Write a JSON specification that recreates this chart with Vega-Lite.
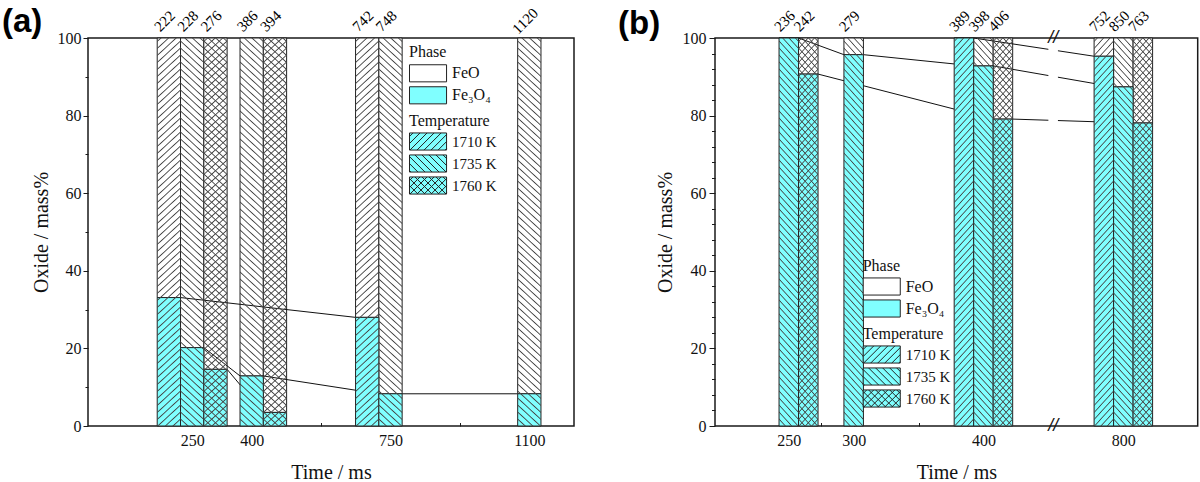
{
  "$schema": "https://vega.github.io/schema/vega-lite/v6.json",
  "description": "Oxide phase fractions (FeO / Fe3O4) vs time for three temperatures, two panels.",
  "background": "white",
  "padding": {"left": 1, "top": 4, "right": 0, "bottom": 0},
  "bounds": "flush",
  "spacing": 141,
  "datasets": {
    "a": [
      {"t": 250, "temp": "1710 K", "run": "222", "fe3o4": 33.1},
      {"t": 250, "temp": "1735 K", "run": "228", "fe3o4": 20.2},
      {"t": 250, "temp": "1760 K", "run": "276", "fe3o4": 14.6},
      {"t": 400, "temp": "1735 K", "run": "386", "fe3o4": 12.9},
      {"t": 400, "temp": "1760 K", "run": "394", "fe3o4": 3.5},
      {"t": 750, "temp": "1710 K", "run": "742", "fe3o4": 28.0},
      {"t": 750, "temp": "1735 K", "run": "748", "fe3o4": 8.3},
      {"t": 1100, "temp": "1735 K", "run": "1120", "fe3o4": 8.3}
    ],
    "b": [
      {"t": 250, "temp": "1735 K", "run": "236", "fe3o4": 100},
      {"t": 250, "temp": "1760 K", "run": "242", "fe3o4": 90.7},
      {"t": 300, "temp": "1735 K", "run": "279", "fe3o4": 95.7},
      {"t": 400, "temp": "1710 K", "run": "389", "fe3o4": 100},
      {"t": 400, "temp": "1735 K", "run": "398", "fe3o4": 92.8},
      {"t": 400, "temp": "1760 K", "run": "406", "fe3o4": 79.1},
      {"t": 800, "temp": "1710 K", "run": "752", "fe3o4": 95.3},
      {"t": 800, "temp": "1735 K", "run": "850", "fe3o4": 87.4},
      {"t": 800, "temp": "1760 K", "run": "763", "fe3o4": 78.1}
    ]
  },
  "resolve": {
    "scale": {"x": "independent", "y": "independent", "fill": "independent", "shape": "independent"},
    "axis": {"x": "independent", "y": "independent"},
    "legend": {"fill": "independent", "shape": "independent"}
  },
  "hconcat": [
    {
      "width": 486,
      "height": 388,
      "title": {"text": "(a)", "anchor": "start", "frame": "group", "dx": -86, "dy": 67, "offset": 8, "font": "Liberation Sans", "fontSize": 33, "fontWeight": "bold", "baseline": "alphabetic", "color": "black"},
      "data": {"name": "a"},
      "layer": [
        {
          "mark": {"type": "point", "filled": true, "color": "#80ffff", "stroke": "#222", "strokeWidth": 1, "opacity": 1},
          "encoding": {
            "x": {"field": "t", "type": "quantitative", "scale": {"domain": [0, 1200], "nice": false, "zero": false},
              "axis": {"title": "Time / ms", "values": [250, 325, 400, 575, 750, 925, 1100], "tickCount": 200, "format": "d", "labelOverlap": false,
                "labelExpr": "indexof([325,575,925], datum.value) >= 0 ? '' : datum.label",
                "tickSize": {"condition": {"test": "indexof([325,575,925], datum.value) >= 0", "value": -3.5}, "value": -7},
                "labelPadding": 13, "titlePadding": 11}},
            "y": {"datum": 50, "type": "quantitative", "scale": {"domain": [0, 100], "nice": false},
              "axis": {"title": "Oxide / mass%", "values": [0, 10, 20, 30, 40, 50, 60, 70, 80, 90, 100], "tickCount": 200, "format": "d", "labelOverlap": false,
                "labelExpr": "datum.value % 20 == 0 ? datum.label : ''",
                "tickSize": {"condition": {"test": "datum.value % 20 != 0", "value": 3}, "value": 5},
                "labelPadding": 2, "titlePadding": 6}},
            "shape": {"field": "temp", "type": "nominal",
              "scale": {"domain": ["1710 K", "1735 K", "1760 K"], "range": [
                "M-1,-0.9H2.9V0.9H-1ZM-1,-0.53L-0.63,-0.9M-1,0.21L0.11,-0.9M-0.95,0.9L0.85,-0.9M-0.21,0.9L1.59,-0.9M0.53,0.9L2.33,-0.9M1.27,0.9L2.9,-0.73M2.01,0.9L2.9,0.01M2.75,0.9L2.9,0.75",
                "M-1,-0.9H2.9V0.9H-1ZM2.9,-0.53L2.53,-0.9M2.9,0.21L1.79,-0.9M2.85,0.9L1.05,-0.9M2.11,0.9L0.31,-0.9M1.37,0.9L-0.43,-0.9M0.63,0.9L-1,-0.73M-0.11,0.9L-1,0.01M-0.85,0.9L-1,0.75",
                "M-1,-0.9H2.9V0.9H-1ZM-1,-0.53L-0.63,-0.9M-1,0.21L0.11,-0.9M-0.95,0.9L0.85,-0.9M-0.21,0.9L1.59,-0.9M0.53,0.9L2.33,-0.9M1.27,0.9L2.9,-0.73M2.01,0.9L2.9,0.01M2.75,0.9L2.9,0.75M2.9,-0.53L2.53,-0.9M2.9,0.21L1.79,-0.9M2.85,0.9L1.05,-0.9M2.11,0.9L0.31,-0.9M1.37,0.9L-0.43,-0.9M0.63,0.9L-1,-0.73M-0.11,0.9L-1,0.01M-0.85,0.9L-1,0.75"]},
              "legend": {"title": "Temperature", "orient": "none", "legendX": 321, "legendY": 74.5, "labelFontSize": 15,
                "encode": {"symbols": {"update": {"fill": {"value": "#80ffff"}, "stroke": {"value": "#222"}, "strokeWidth": {"value": 1}, "opacity": {"value": 1}}}}}}
          }
        },
        {
          "transform": [{"filter": "datum.temp == '1710 K'"}],
          "mark": {"type": "bar", "width": 23.3, "xOffset": -23.3, "stroke": "#222", "strokeWidth": 1},
          "encoding": {
            "x": {"field": "t", "type": "quantitative"},
            "y": {"field": "fe3o4", "type": "quantitative"},
            "y2": {"datum": 100},
            "fill": {"datum": "FeO", "scale": {"domain": ["FeO", "Fe₃O₄"], "range": ["#ffffff", "#80ffff"]},
              "legend": {"title": "Phase", "orient": "none", "legendX": 321, "legendY": 6.3, "symbolType": "M-1,-0.9H2.9V0.9H-1Z",
                "encode": {"symbols": {"update": {"stroke": {"value": "#222"}, "strokeWidth": {"value": 1}, "opacity": {"value": 1}}}}}}
          }
        },
        {
          "transform": [{"filter": "datum.temp == '1735 K'"}],
          "mark": {"type": "bar", "width": 23.3, "xOffset": 0, "stroke": "#222", "strokeWidth": 1},
          "encoding": {"x": {"field": "t", "type": "quantitative"}, "y": {"field": "fe3o4", "type": "quantitative"}, "y2": {"datum": 100}, "fill": {"datum": "FeO"}}
        },
        {
          "transform": [{"filter": "datum.temp == '1760 K'"}],
          "mark": {"type": "bar", "width": 23.3, "xOffset": 23.3, "stroke": "#222", "strokeWidth": 1},
          "encoding": {"x": {"field": "t", "type": "quantitative"}, "y": {"field": "fe3o4", "type": "quantitative"}, "y2": {"datum": 100}, "fill": {"datum": "FeO"}}
        },
        {
          "transform": [{"filter": "datum.temp == '1710 K'"}, {"window": [{"op": "lead", "field": "t", "as": "t2"}, {"op": "lead", "field": "fe3o4", "as": "v2"}], "sort": [{"field": "t"}]}, {"filter": "datum.t2 != null"}],
          "mark": {"type": "rule", "xOffset": -11.65, "x2Offset": -34.95, "color": "#111", "strokeWidth": 1},
          "encoding": {"x": {"field": "t", "type": "quantitative"}, "x2": {"field": "t2"}, "y": {"field": "fe3o4", "type": "quantitative"}, "y2": {"field": "v2"}}
        },
        {
          "transform": [{"filter": "datum.temp == '1735 K'"}, {"window": [{"op": "lead", "field": "t", "as": "t2"}, {"op": "lead", "field": "fe3o4", "as": "v2"}], "sort": [{"field": "t"}]}, {"filter": "datum.t2 != null"}],
          "mark": {"type": "rule", "xOffset": 11.65, "x2Offset": -11.65, "color": "#111", "strokeWidth": 1},
          "encoding": {"x": {"field": "t", "type": "quantitative"}, "x2": {"field": "t2"}, "y": {"field": "fe3o4", "type": "quantitative"}, "y2": {"field": "v2"}}
        },
        {
          "transform": [{"filter": "datum.temp == '1760 K'"}, {"window": [{"op": "lead", "field": "t", "as": "t2"}, {"op": "lead", "field": "fe3o4", "as": "v2"}], "sort": [{"field": "t"}]}, {"filter": "datum.t2 != null"}],
          "mark": {"type": "rule", "xOffset": 34.95, "x2Offset": 11.65, "color": "#111", "strokeWidth": 1},
          "encoding": {"x": {"field": "t", "type": "quantitative"}, "x2": {"field": "t2"}, "y": {"field": "fe3o4", "type": "quantitative"}, "y2": {"field": "v2"}}
        },
        {
          "transform": [{"filter": "datum.temp == '1710 K'"}],
          "mark": {"type": "bar", "width": 23.3, "xOffset": -23.3, "stroke": "#222", "strokeWidth": 1},
          "encoding": {"x": {"field": "t", "type": "quantitative"}, "y": {"field": "fe3o4", "type": "quantitative"}, "y2": {"datum": 0}, "fill": {"datum": "Fe₃O₄"}}
        },
        {
          "transform": [{"filter": "datum.temp == '1735 K'"}],
          "mark": {"type": "bar", "width": 23.3, "xOffset": 0, "stroke": "#222", "strokeWidth": 1},
          "encoding": {"x": {"field": "t", "type": "quantitative"}, "y": {"field": "fe3o4", "type": "quantitative"}, "y2": {"datum": 0}, "fill": {"datum": "Fe₃O₄"}}
        },
        {
          "transform": [{"filter": "datum.temp == '1760 K'"}],
          "mark": {"type": "bar", "width": 23.3, "xOffset": 23.3, "stroke": "#222", "strokeWidth": 1},
          "encoding": {"x": {"field": "t", "type": "quantitative"}, "y": {"field": "fe3o4", "type": "quantitative"}, "y2": {"datum": 0}, "fill": {"datum": "Fe₃O₄"}}
        },
        {
          "transform": [{"filter": "datum.temp == '1710 K'"}],
          "mark": {"type": "bar", "style": "hfwd", "width": 23.3, "xOffset": -23.3},
          "encoding": {"x": {"field": "t", "type": "quantitative"}, "y": {"datum": 100}, "y2": {"datum": 0}}
        },
        {
          "transform": [{"filter": "datum.temp == '1735 K'"}],
          "mark": {"type": "bar", "style": "hback", "width": 23.3, "xOffset": 0},
          "encoding": {"x": {"field": "t", "type": "quantitative"}, "y": {"datum": 100}, "y2": {"datum": 0}}
        },
        {
          "transform": [{"filter": "datum.temp == '1760 K'"}],
          "mark": {"type": "bar", "style": "hfwd", "width": 23.3, "xOffset": 23.3},
          "encoding": {"x": {"field": "t", "type": "quantitative"}, "y": {"datum": 100}, "y2": {"datum": 0}}
        },
        {
          "transform": [{"filter": "datum.temp == '1760 K'"}],
          "mark": {"type": "bar", "style": "hback", "width": 23.3, "xOffset": 23.3},
          "encoding": {"x": {"field": "t", "type": "quantitative"}, "y": {"datum": 100}, "y2": {"datum": 0}}
        },
        {
          "transform": [{"filter": "datum.temp == '1710 K'"}],
          "mark": {"type": "text", "angle": -45, "align": "center", "baseline": "middle", "dx": 9, "dy": -15, "xOffset": -23.3, "font": "Liberation Serif", "fontSize": 15, "color": "black"},
          "encoding": {"x": {"field": "t", "type": "quantitative"}, "y": {"datum": 100}, "text": {"field": "run"}}
        },
        {
          "transform": [{"filter": "datum.temp == '1735 K'"}],
          "mark": {"type": "text", "angle": -45, "align": "center", "baseline": "middle", "dx": 9, "dy": -15, "xOffset": 0, "font": "Liberation Serif", "fontSize": 15, "color": "black"},
          "encoding": {"x": {"field": "t", "type": "quantitative"}, "y": {"datum": 100}, "text": {"field": "run"}}
        },
        {
          "transform": [{"filter": "datum.temp == '1760 K'"}],
          "mark": {"type": "text", "angle": -45, "align": "center", "baseline": "middle", "dx": 9, "dy": -15, "xOffset": 23.3, "font": "Liberation Serif", "fontSize": 15, "color": "black"},
          "encoding": {"x": {"field": "t", "type": "quantitative"}, "y": {"datum": 100}, "text": {"field": "run"}}
        }
      ]
    },
    {
      "width": 482.7,
      "height": 388,
      "title": {"text": "(b)", "anchor": "start", "frame": "group", "dx": -97, "dy": 67, "offset": 8, "font": "Liberation Sans", "fontSize": 33, "fontWeight": "bold", "baseline": "alphabetic", "color": "black"},
      "data": {"name": "b"},
      "layer": [
        {
          "mark": {"type": "point", "filled": true, "color": "#80ffff", "stroke": "#222", "strokeWidth": 1, "opacity": 1},
          "encoding": {
            "x": {"field": "t", "type": "quantitative", "scale": {"domain": [200, 450, 750, 850], "range": [0, 333.3, 343, 482.7], "nice": false, "zero": false},
              "axis": {"title": "Time / ms", "values": [250, 275, 300, 350, 400, 800], "tickCount": 200, "format": "d", "labelOverlap": false,
                "labelExpr": "datum.value == 275 || datum.value == 350 ? '' : datum.label",
                "tickSize": {"condition": {"test": "datum.value == 275 || datum.value == 350", "value": -3.5}, "value": -7},
                "labelPadding": 13, "titlePadding": 11}},
            "y": {"datum": 50, "type": "quantitative", "scale": {"domain": [0, 100], "nice": false},
              "axis": {"title": "Oxide / mass%", "values": [0, 4, 8, 12, 16, 20, 24, 28, 32, 36, 40, 44, 48, 52, 56, 60, 64, 68, 72, 76, 80, 84, 88, 92, 96, 100], "tickCount": 200, "format": "d", "labelOverlap": false,
                "labelExpr": "datum.value % 20 == 0 ? datum.label : ''",
                "tickSize": {"condition": {"test": "datum.value % 20 != 0", "value": 3.5}, "value": 6},
                "labelPadding": 3, "titlePadding": 7}},
            "shape": {"field": "temp", "type": "nominal",
              "scale": {"domain": ["1710 K", "1735 K", "1760 K"], "range": [
                "M-1,-0.9H2.9V0.9H-1ZM-1,-0.53L-0.63,-0.9M-1,0.21L0.11,-0.9M-0.95,0.9L0.85,-0.9M-0.21,0.9L1.59,-0.9M0.53,0.9L2.33,-0.9M1.27,0.9L2.9,-0.73M2.01,0.9L2.9,0.01M2.75,0.9L2.9,0.75",
                "M-1,-0.9H2.9V0.9H-1ZM2.9,-0.53L2.53,-0.9M2.9,0.21L1.79,-0.9M2.85,0.9L1.05,-0.9M2.11,0.9L0.31,-0.9M1.37,0.9L-0.43,-0.9M0.63,0.9L-1,-0.73M-0.11,0.9L-1,0.01M-0.85,0.9L-1,0.75",
                "M-1,-0.9H2.9V0.9H-1ZM-1,-0.53L-0.63,-0.9M-1,0.21L0.11,-0.9M-0.95,0.9L0.85,-0.9M-0.21,0.9L1.59,-0.9M0.53,0.9L2.33,-0.9M1.27,0.9L2.9,-0.73M2.01,0.9L2.9,0.01M2.75,0.9L2.9,0.75M2.9,-0.53L2.53,-0.9M2.9,0.21L1.79,-0.9M2.85,0.9L1.05,-0.9M2.11,0.9L0.31,-0.9M1.37,0.9L-0.43,-0.9M0.63,0.9L-1,-0.73M-0.11,0.9L-1,0.01M-0.85,0.9L-1,0.75"]},
              "legend": {"title": "Temperature", "orient": "none", "legendX": 147.7, "legendY": 287.5, "labelFontSize": 15,
                "encode": {"symbols": {"update": {"fill": {"value": "#80ffff"}, "stroke": {"value": "#222"}, "strokeWidth": {"value": 1}, "opacity": {"value": 1}}}}}}
          }
        },
        {
          "transform": [{"filter": "datum.temp == '1710 K'"}],
          "mark": {"type": "bar", "width": 19.5, "xOffset": -19.5, "stroke": "#222", "strokeWidth": 1},
          "encoding": {
            "x": {"field": "t", "type": "quantitative"},
            "y": {"field": "fe3o4", "type": "quantitative"},
            "y2": {"datum": 100},
            "fill": {"datum": "FeO", "scale": {"domain": ["FeO", "Fe₃O₄"], "range": ["#ffffff", "#80ffff"]},
              "legend": {"title": "Phase", "orient": "none", "legendX": 147.7, "legendY": 219.5, "symbolType": "M-1,-0.9H2.9V0.9H-1Z",
                "encode": {"symbols": {"update": {"stroke": {"value": "#222"}, "strokeWidth": {"value": 1}, "opacity": {"value": 1}}}}}}
          }
        },
        {
          "transform": [{"filter": "datum.temp == '1735 K'"}],
          "mark": {"type": "bar", "width": 19.5, "xOffset": 0, "stroke": "#222", "strokeWidth": 1},
          "encoding": {"x": {"field": "t", "type": "quantitative"}, "y": {"field": "fe3o4", "type": "quantitative"}, "y2": {"datum": 100}, "fill": {"datum": "FeO"}}
        },
        {
          "transform": [{"filter": "datum.temp == '1760 K'"}],
          "mark": {"type": "bar", "width": 19.5, "xOffset": 19.5, "stroke": "#222", "strokeWidth": 1},
          "encoding": {"x": {"field": "t", "type": "quantitative"}, "y": {"field": "fe3o4", "type": "quantitative"}, "y2": {"datum": 100}, "fill": {"datum": "FeO"}}
        },
        {
          "transform": [{"filter": "datum.temp == '1710 K'"}, {"window": [{"op": "lead", "field": "t", "as": "t2"}, {"op": "lead", "field": "fe3o4", "as": "v2"}], "sort": [{"field": "t"}]}, {"filter": "datum.t2 != null"}],
          "mark": {"type": "rule", "xOffset": -9.75, "x2Offset": -29.25, "color": "#111", "strokeWidth": 1},
          "encoding": {"x": {"field": "t", "type": "quantitative"}, "x2": {"field": "t2"}, "y": {"field": "fe3o4", "type": "quantitative"}, "y2": {"field": "v2"}}
        },
        {
          "transform": [{"filter": "datum.temp == '1735 K'"}, {"window": [{"op": "lead", "field": "t", "as": "t2"}, {"op": "lead", "field": "fe3o4", "as": "v2"}], "sort": [{"field": "t"}]}, {"filter": "datum.t2 != null"}],
          "mark": {"type": "rule", "xOffset": 9.75, "x2Offset": -9.75, "color": "#111", "strokeWidth": 1},
          "encoding": {"x": {"field": "t", "type": "quantitative"}, "x2": {"field": "t2"}, "y": {"field": "fe3o4", "type": "quantitative"}, "y2": {"field": "v2"}}
        },
        {
          "transform": [{"filter": "datum.temp == '1760 K'"}, {"window": [{"op": "lead", "field": "t", "as": "t2"}, {"op": "lead", "field": "fe3o4", "as": "v2"}], "sort": [{"field": "t"}]}, {"filter": "datum.t2 != null"}],
          "mark": {"type": "rule", "xOffset": 29.25, "x2Offset": 9.75, "color": "#111", "strokeWidth": 1},
          "encoding": {"x": {"field": "t", "type": "quantitative"}, "x2": {"field": "t2"}, "y": {"field": "fe3o4", "type": "quantitative"}, "y2": {"field": "v2"}}
        },
        {
          "data": {"values": [{}]},
          "mark": {"type": "rect", "color": "white"},
          "encoding": {"x": {"datum": 452}, "x2": {"datum": 748}, "y": {"datum": 1}, "y2": {"datum": 99.5}}
        },
        {
          "transform": [{"filter": "datum.temp == '1710 K'"}],
          "mark": {"type": "bar", "width": 19.5, "xOffset": -19.5, "stroke": "#222", "strokeWidth": 1},
          "encoding": {"x": {"field": "t", "type": "quantitative"}, "y": {"field": "fe3o4", "type": "quantitative"}, "y2": {"datum": 0}, "fill": {"datum": "Fe₃O₄"}}
        },
        {
          "transform": [{"filter": "datum.temp == '1735 K'"}],
          "mark": {"type": "bar", "width": 19.5, "xOffset": 0, "stroke": "#222", "strokeWidth": 1},
          "encoding": {"x": {"field": "t", "type": "quantitative"}, "y": {"field": "fe3o4", "type": "quantitative"}, "y2": {"datum": 0}, "fill": {"datum": "Fe₃O₄"}}
        },
        {
          "transform": [{"filter": "datum.temp == '1760 K'"}],
          "mark": {"type": "bar", "width": 19.5, "xOffset": 19.5, "stroke": "#222", "strokeWidth": 1},
          "encoding": {"x": {"field": "t", "type": "quantitative"}, "y": {"field": "fe3o4", "type": "quantitative"}, "y2": {"datum": 0}, "fill": {"datum": "Fe₃O₄"}}
        },
        {
          "transform": [{"filter": "datum.temp == '1710 K'"}],
          "mark": {"type": "bar", "style": "hfwd", "width": 19.5, "xOffset": -19.5},
          "encoding": {"x": {"field": "t", "type": "quantitative"}, "y": {"datum": 100}, "y2": {"datum": 0}}
        },
        {
          "transform": [{"filter": "datum.temp == '1735 K'"}],
          "mark": {"type": "bar", "style": "hback", "width": 19.5, "xOffset": 0},
          "encoding": {"x": {"field": "t", "type": "quantitative"}, "y": {"datum": 100}, "y2": {"datum": 0}}
        },
        {
          "transform": [{"filter": "datum.temp == '1760 K'"}],
          "mark": {"type": "bar", "style": "hfwd", "width": 19.5, "xOffset": 19.5},
          "encoding": {"x": {"field": "t", "type": "quantitative"}, "y": {"datum": 100}, "y2": {"datum": 0}}
        },
        {
          "transform": [{"filter": "datum.temp == '1760 K'"}],
          "mark": {"type": "bar", "style": "hback", "width": 19.5, "xOffset": 19.5},
          "encoding": {"x": {"field": "t", "type": "quantitative"}, "y": {"datum": 100}, "y2": {"datum": 0}}
        },
        {
          "transform": [{"filter": "datum.temp == '1710 K'"}],
          "mark": {"type": "text", "angle": -45, "align": "center", "baseline": "middle", "dx": 9, "dy": -15, "xOffset": -19.5, "font": "Liberation Serif", "fontSize": 15, "color": "black"},
          "encoding": {"x": {"field": "t", "type": "quantitative"}, "y": {"datum": 100}, "text": {"field": "run"}}
        },
        {
          "transform": [{"filter": "datum.temp == '1735 K'"}],
          "mark": {"type": "text", "angle": -45, "align": "center", "baseline": "middle", "dx": 9, "dy": -15, "xOffset": 0, "font": "Liberation Serif", "fontSize": 15, "color": "black"},
          "encoding": {"x": {"field": "t", "type": "quantitative"}, "y": {"datum": 100}, "text": {"field": "run"}}
        },
        {
          "transform": [{"filter": "datum.temp == '1760 K'"}],
          "mark": {"type": "text", "angle": -45, "align": "center", "baseline": "middle", "dx": 9, "dy": -15, "xOffset": 19.5, "font": "Liberation Serif", "fontSize": 15, "color": "black"},
          "encoding": {"x": {"field": "t", "type": "quantitative"}, "y": {"datum": 100}, "text": {"field": "run"}}
        },
        {
          "data": {"values": [{"edge": 0}, {"edge": 100}]},
          "mark": {"type": "text", "text": "//", "font": "Liberation Sans", "fontSize": 18, "fontStyle": "italic", "align": "center", "baseline": "middle", "color": "#111"},
          "encoding": {"x": {"datum": 600}, "y": {"field": "edge", "type": "quantitative"}}
        }
      ]
    }
  ],
  "config": {
    "font": "Liberation Serif",
    "view": {"stroke": "#1a1a1a", "strokeWidth": 1.5},
    "axis": {"grid": false, "domain": false, "labelOverlap": false, "labelBound": false, "labelFont": "Liberation Serif", "labelFontSize": 16, "labelColor": "#111", "titleFont": "Liberation Serif", "titleFontSize": 20, "titleFontWeight": "normal", "titleColor": "#111", "tickColor": "#1a1a1a", "tickWidth": 1},
    "legend": {"labelFont": "Liberation Serif", "labelFontSize": 16, "labelColor": "#111", "titleFont": "Liberation Serif", "titleFontSize": 16, "titleFontWeight": "normal", "titleColor": "#111", "padding": 0, "rowPadding": 0, "titlePadding": 3, "symbolSize": 361, "symbolStrokeWidth": 1, "labelOffset": 23},
    "style": {
      "hfwd": {"color": {"gradient": "linear", "x1": 0, "y1": 0, "x2": 0.0583, "y2": 1.0522, "stops": [
        {"offset":0.0055,"color":"#4440"},{"offset":0.0085,"color":"#444"},{"offset":0.0115,"color":"#4440"},
        {"offset":0.0226,"color":"#4440"},{"offset":0.0256,"color":"#444"},{"offset":0.0286,"color":"#4440"},
        {"offset":0.0397,"color":"#4440"},{"offset":0.0427,"color":"#444"},{"offset":0.0457,"color":"#4440"},
        {"offset":0.0568,"color":"#4440"},{"offset":0.0598,"color":"#444"},{"offset":0.0628,"color":"#4440"},
        {"offset":0.0739,"color":"#4440"},{"offset":0.0769,"color":"#444"},{"offset":0.0799,"color":"#4440"},
        {"offset":0.0910,"color":"#4440"},{"offset":0.0940,"color":"#444"},{"offset":0.0970,"color":"#4440"},
        {"offset":0.1081,"color":"#4440"},{"offset":0.1111,"color":"#444"},{"offset":0.1141,"color":"#4440"},
        {"offset":0.1252,"color":"#4440"},{"offset":0.1282,"color":"#444"},{"offset":0.1312,"color":"#4440"},
        {"offset":0.1423,"color":"#4440"},{"offset":0.1453,"color":"#444"},{"offset":0.1483,"color":"#4440"},
        {"offset":0.1593,"color":"#4440"},{"offset":0.1623,"color":"#444"},{"offset":0.1653,"color":"#4440"},
        {"offset":0.1764,"color":"#4440"},{"offset":0.1794,"color":"#444"},{"offset":0.1824,"color":"#4440"},
        {"offset":0.1935,"color":"#4440"},{"offset":0.1965,"color":"#444"},{"offset":0.1995,"color":"#4440"},
        {"offset":0.2106,"color":"#4440"},{"offset":0.2136,"color":"#444"},{"offset":0.2166,"color":"#4440"},
        {"offset":0.2277,"color":"#4440"},{"offset":0.2307,"color":"#444"},{"offset":0.2337,"color":"#4440"},
        {"offset":0.2448,"color":"#4440"},{"offset":0.2478,"color":"#444"},{"offset":0.2508,"color":"#4440"},
        {"offset":0.2619,"color":"#4440"},{"offset":0.2649,"color":"#444"},{"offset":0.2679,"color":"#4440"},
        {"offset":0.2790,"color":"#4440"},{"offset":0.2820,"color":"#444"},{"offset":0.2850,"color":"#4440"},
        {"offset":0.2961,"color":"#4440"},{"offset":0.2991,"color":"#444"},{"offset":0.3021,"color":"#4440"},
        {"offset":0.3132,"color":"#4440"},{"offset":0.3162,"color":"#444"},{"offset":0.3192,"color":"#4440"},
        {"offset":0.3303,"color":"#4440"},{"offset":0.3333,"color":"#444"},{"offset":0.3363,"color":"#4440"},
        {"offset":0.3474,"color":"#4440"},{"offset":0.3504,"color":"#444"},{"offset":0.3534,"color":"#4440"},
        {"offset":0.3645,"color":"#4440"},{"offset":0.3675,"color":"#444"},{"offset":0.3705,"color":"#4440"},
        {"offset":0.3816,"color":"#4440"},{"offset":0.3846,"color":"#444"},{"offset":0.3876,"color":"#4440"},
        {"offset":0.3987,"color":"#4440"},{"offset":0.4017,"color":"#444"},{"offset":0.4047,"color":"#4440"},
        {"offset":0.4158,"color":"#4440"},{"offset":0.4188,"color":"#444"},{"offset":0.4218,"color":"#4440"},
        {"offset":0.4329,"color":"#4440"},{"offset":0.4359,"color":"#444"},{"offset":0.4389,"color":"#4440"},
        {"offset":0.4499,"color":"#4440"},{"offset":0.4529,"color":"#444"},{"offset":0.4559,"color":"#4440"},
        {"offset":0.4670,"color":"#4440"},{"offset":0.4700,"color":"#444"},{"offset":0.4730,"color":"#4440"},
        {"offset":0.4841,"color":"#4440"},{"offset":0.4871,"color":"#444"},{"offset":0.4901,"color":"#4440"},
        {"offset":0.5012,"color":"#4440"},{"offset":0.5042,"color":"#444"},{"offset":0.5072,"color":"#4440"},
        {"offset":0.5183,"color":"#4440"},{"offset":0.5213,"color":"#444"},{"offset":0.5243,"color":"#4440"},
        {"offset":0.5354,"color":"#4440"},{"offset":0.5384,"color":"#444"},{"offset":0.5414,"color":"#4440"},
        {"offset":0.5525,"color":"#4440"},{"offset":0.5555,"color":"#444"},{"offset":0.5585,"color":"#4440"},
        {"offset":0.5696,"color":"#4440"},{"offset":0.5726,"color":"#444"},{"offset":0.5756,"color":"#4440"},
        {"offset":0.5867,"color":"#4440"},{"offset":0.5897,"color":"#444"},{"offset":0.5927,"color":"#4440"},
        {"offset":0.6038,"color":"#4440"},{"offset":0.6068,"color":"#444"},{"offset":0.6098,"color":"#4440"},
        {"offset":0.6209,"color":"#4440"},{"offset":0.6239,"color":"#444"},{"offset":0.6269,"color":"#4440"},
        {"offset":0.6380,"color":"#4440"},{"offset":0.6410,"color":"#444"},{"offset":0.6440,"color":"#4440"},
        {"offset":0.6551,"color":"#4440"},{"offset":0.6581,"color":"#444"},{"offset":0.6611,"color":"#4440"},
        {"offset":0.6722,"color":"#4440"},{"offset":0.6752,"color":"#444"},{"offset":0.6782,"color":"#4440"},
        {"offset":0.6893,"color":"#4440"},{"offset":0.6923,"color":"#444"},{"offset":0.6953,"color":"#4440"},
        {"offset":0.7064,"color":"#4440"},{"offset":0.7094,"color":"#444"},{"offset":0.7124,"color":"#4440"},
        {"offset":0.7234,"color":"#4440"},{"offset":0.7264,"color":"#444"},{"offset":0.7294,"color":"#4440"},
        {"offset":0.7405,"color":"#4440"},{"offset":0.7435,"color":"#444"},{"offset":0.7465,"color":"#4440"},
        {"offset":0.7576,"color":"#4440"},{"offset":0.7606,"color":"#444"},{"offset":0.7636,"color":"#4440"},
        {"offset":0.7747,"color":"#4440"},{"offset":0.7777,"color":"#444"},{"offset":0.7807,"color":"#4440"},
        {"offset":0.7918,"color":"#4440"},{"offset":0.7948,"color":"#444"},{"offset":0.7978,"color":"#4440"},
        {"offset":0.8089,"color":"#4440"},{"offset":0.8119,"color":"#444"},{"offset":0.8149,"color":"#4440"},
        {"offset":0.8260,"color":"#4440"},{"offset":0.8290,"color":"#444"},{"offset":0.8320,"color":"#4440"},
        {"offset":0.8431,"color":"#4440"},{"offset":0.8461,"color":"#444"},{"offset":0.8491,"color":"#4440"},
        {"offset":0.8602,"color":"#4440"},{"offset":0.8632,"color":"#444"},{"offset":0.8662,"color":"#4440"},
        {"offset":0.8773,"color":"#4440"},{"offset":0.8803,"color":"#444"},{"offset":0.8833,"color":"#4440"},
        {"offset":0.8944,"color":"#4440"},{"offset":0.8974,"color":"#444"},{"offset":0.9004,"color":"#4440"},
        {"offset":0.9115,"color":"#4440"},{"offset":0.9145,"color":"#444"},{"offset":0.9175,"color":"#4440"},
        {"offset":0.9286,"color":"#4440"},{"offset":0.9316,"color":"#444"},{"offset":0.9346,"color":"#4440"},
        {"offset":0.9457,"color":"#4440"},{"offset":0.9487,"color":"#444"},{"offset":0.9517,"color":"#4440"},
        {"offset":0.9628,"color":"#4440"},{"offset":0.9658,"color":"#444"},{"offset":0.9688,"color":"#4440"},
        {"offset":0.9799,"color":"#4440"},{"offset":0.9829,"color":"#444"},{"offset":0.9859,"color":"#4440"}
      ]}},
      "hback": {"color": {"gradient": "linear", "x1": 1, "y1": 0, "x2": 0.9417, "y2": 1.0522, "stops": [
        {"offset":0.0055,"color":"#4440"},{"offset":0.0085,"color":"#444"},{"offset":0.0115,"color":"#4440"},
        {"offset":0.0226,"color":"#4440"},{"offset":0.0256,"color":"#444"},{"offset":0.0286,"color":"#4440"},
        {"offset":0.0397,"color":"#4440"},{"offset":0.0427,"color":"#444"},{"offset":0.0457,"color":"#4440"},
        {"offset":0.0568,"color":"#4440"},{"offset":0.0598,"color":"#444"},{"offset":0.0628,"color":"#4440"},
        {"offset":0.0739,"color":"#4440"},{"offset":0.0769,"color":"#444"},{"offset":0.0799,"color":"#4440"},
        {"offset":0.0910,"color":"#4440"},{"offset":0.0940,"color":"#444"},{"offset":0.0970,"color":"#4440"},
        {"offset":0.1081,"color":"#4440"},{"offset":0.1111,"color":"#444"},{"offset":0.1141,"color":"#4440"},
        {"offset":0.1252,"color":"#4440"},{"offset":0.1282,"color":"#444"},{"offset":0.1312,"color":"#4440"},
        {"offset":0.1423,"color":"#4440"},{"offset":0.1453,"color":"#444"},{"offset":0.1483,"color":"#4440"},
        {"offset":0.1593,"color":"#4440"},{"offset":0.1623,"color":"#444"},{"offset":0.1653,"color":"#4440"},
        {"offset":0.1764,"color":"#4440"},{"offset":0.1794,"color":"#444"},{"offset":0.1824,"color":"#4440"},
        {"offset":0.1935,"color":"#4440"},{"offset":0.1965,"color":"#444"},{"offset":0.1995,"color":"#4440"},
        {"offset":0.2106,"color":"#4440"},{"offset":0.2136,"color":"#444"},{"offset":0.2166,"color":"#4440"},
        {"offset":0.2277,"color":"#4440"},{"offset":0.2307,"color":"#444"},{"offset":0.2337,"color":"#4440"},
        {"offset":0.2448,"color":"#4440"},{"offset":0.2478,"color":"#444"},{"offset":0.2508,"color":"#4440"},
        {"offset":0.2619,"color":"#4440"},{"offset":0.2649,"color":"#444"},{"offset":0.2679,"color":"#4440"},
        {"offset":0.2790,"color":"#4440"},{"offset":0.2820,"color":"#444"},{"offset":0.2850,"color":"#4440"},
        {"offset":0.2961,"color":"#4440"},{"offset":0.2991,"color":"#444"},{"offset":0.3021,"color":"#4440"},
        {"offset":0.3132,"color":"#4440"},{"offset":0.3162,"color":"#444"},{"offset":0.3192,"color":"#4440"},
        {"offset":0.3303,"color":"#4440"},{"offset":0.3333,"color":"#444"},{"offset":0.3363,"color":"#4440"},
        {"offset":0.3474,"color":"#4440"},{"offset":0.3504,"color":"#444"},{"offset":0.3534,"color":"#4440"},
        {"offset":0.3645,"color":"#4440"},{"offset":0.3675,"color":"#444"},{"offset":0.3705,"color":"#4440"},
        {"offset":0.3816,"color":"#4440"},{"offset":0.3846,"color":"#444"},{"offset":0.3876,"color":"#4440"},
        {"offset":0.3987,"color":"#4440"},{"offset":0.4017,"color":"#444"},{"offset":0.4047,"color":"#4440"},
        {"offset":0.4158,"color":"#4440"},{"offset":0.4188,"color":"#444"},{"offset":0.4218,"color":"#4440"},
        {"offset":0.4329,"color":"#4440"},{"offset":0.4359,"color":"#444"},{"offset":0.4389,"color":"#4440"},
        {"offset":0.4499,"color":"#4440"},{"offset":0.4529,"color":"#444"},{"offset":0.4559,"color":"#4440"},
        {"offset":0.4670,"color":"#4440"},{"offset":0.4700,"color":"#444"},{"offset":0.4730,"color":"#4440"},
        {"offset":0.4841,"color":"#4440"},{"offset":0.4871,"color":"#444"},{"offset":0.4901,"color":"#4440"},
        {"offset":0.5012,"color":"#4440"},{"offset":0.5042,"color":"#444"},{"offset":0.5072,"color":"#4440"},
        {"offset":0.5183,"color":"#4440"},{"offset":0.5213,"color":"#444"},{"offset":0.5243,"color":"#4440"},
        {"offset":0.5354,"color":"#4440"},{"offset":0.5384,"color":"#444"},{"offset":0.5414,"color":"#4440"},
        {"offset":0.5525,"color":"#4440"},{"offset":0.5555,"color":"#444"},{"offset":0.5585,"color":"#4440"},
        {"offset":0.5696,"color":"#4440"},{"offset":0.5726,"color":"#444"},{"offset":0.5756,"color":"#4440"},
        {"offset":0.5867,"color":"#4440"},{"offset":0.5897,"color":"#444"},{"offset":0.5927,"color":"#4440"},
        {"offset":0.6038,"color":"#4440"},{"offset":0.6068,"color":"#444"},{"offset":0.6098,"color":"#4440"},
        {"offset":0.6209,"color":"#4440"},{"offset":0.6239,"color":"#444"},{"offset":0.6269,"color":"#4440"},
        {"offset":0.6380,"color":"#4440"},{"offset":0.6410,"color":"#444"},{"offset":0.6440,"color":"#4440"},
        {"offset":0.6551,"color":"#4440"},{"offset":0.6581,"color":"#444"},{"offset":0.6611,"color":"#4440"},
        {"offset":0.6722,"color":"#4440"},{"offset":0.6752,"color":"#444"},{"offset":0.6782,"color":"#4440"},
        {"offset":0.6893,"color":"#4440"},{"offset":0.6923,"color":"#444"},{"offset":0.6953,"color":"#4440"},
        {"offset":0.7064,"color":"#4440"},{"offset":0.7094,"color":"#444"},{"offset":0.7124,"color":"#4440"},
        {"offset":0.7234,"color":"#4440"},{"offset":0.7264,"color":"#444"},{"offset":0.7294,"color":"#4440"},
        {"offset":0.7405,"color":"#4440"},{"offset":0.7435,"color":"#444"},{"offset":0.7465,"color":"#4440"},
        {"offset":0.7576,"color":"#4440"},{"offset":0.7606,"color":"#444"},{"offset":0.7636,"color":"#4440"},
        {"offset":0.7747,"color":"#4440"},{"offset":0.7777,"color":"#444"},{"offset":0.7807,"color":"#4440"},
        {"offset":0.7918,"color":"#4440"},{"offset":0.7948,"color":"#444"},{"offset":0.7978,"color":"#4440"},
        {"offset":0.8089,"color":"#4440"},{"offset":0.8119,"color":"#444"},{"offset":0.8149,"color":"#4440"},
        {"offset":0.8260,"color":"#4440"},{"offset":0.8290,"color":"#444"},{"offset":0.8320,"color":"#4440"},
        {"offset":0.8431,"color":"#4440"},{"offset":0.8461,"color":"#444"},{"offset":0.8491,"color":"#4440"},
        {"offset":0.8602,"color":"#4440"},{"offset":0.8632,"color":"#444"},{"offset":0.8662,"color":"#4440"},
        {"offset":0.8773,"color":"#4440"},{"offset":0.8803,"color":"#444"},{"offset":0.8833,"color":"#4440"},
        {"offset":0.8944,"color":"#4440"},{"offset":0.8974,"color":"#444"},{"offset":0.9004,"color":"#4440"},
        {"offset":0.9115,"color":"#4440"},{"offset":0.9145,"color":"#444"},{"offset":0.9175,"color":"#4440"},
        {"offset":0.9286,"color":"#4440"},{"offset":0.9316,"color":"#444"},{"offset":0.9346,"color":"#4440"},
        {"offset":0.9457,"color":"#4440"},{"offset":0.9487,"color":"#444"},{"offset":0.9517,"color":"#4440"},
        {"offset":0.9628,"color":"#4440"},{"offset":0.9658,"color":"#444"},{"offset":0.9688,"color":"#4440"},
        {"offset":0.9799,"color":"#4440"},{"offset":0.9829,"color":"#444"},{"offset":0.9859,"color":"#4440"}
      ]}}
    }
  }
}
